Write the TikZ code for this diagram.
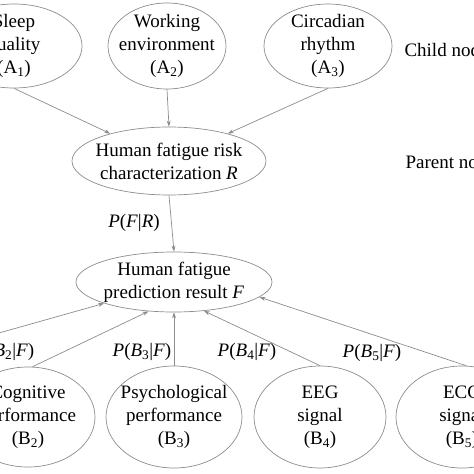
\documentclass[tikz,border=0pt]{standalone}
\usepackage{fontspec}
\setmainfont{Liberation Serif}
\usepackage{tikz}
\usetikzlibrary{shapes.geometric}
\usetikzlibrary{arrows.meta}
\definecolor{lgray}{RGB}{140,140,140}

\begin{document}
\begin{tikzpicture}[x=1pt,y=-1pt,
			every node/.style={font=\fontsize{19}{23}\selectfont},
			ell/.style={ellipse,draw=lgray,line width=0.7pt,inner sep=0pt},
			txt/.style={align=center},
			arr/.style={draw=lgray,line width=0.7pt,-{Stealth[length=6pt,width=4pt]}}]
			\useasboundingbox (0,0) rectangle (474,474);
			\clip (0,0) rectangle (474,474);
			
			\node[ell,minimum width=136pt,minimum height=84pt,label={[txt]center:Sleep\\quality\\(A\textsubscript{1})}] (A1) at (14,46) {};
			\node[ell,minimum width=118pt,minimum height=86pt,label={[txt]center:Working\\environment\\(A\textsubscript{2})}] (A2) at (167,46) {};
			\node[ell,minimum width=128pt,minimum height=84pt,label={[txt]center:Circadian\\rhythm\\(A\textsubscript{3})}] (A3) at (328,46) {};
			\node[anchor=west] (child) at (401,50) {Child nodes};
			
			\node[ell,minimum width=194pt,minimum height=68pt,label={[txt]center:Human fatigue risk\\characterization \textit{R}}] (R) at (169,161) {};
			\node[anchor=west] (parent) at (402,162) {Parent nodes};
			
			\node[ell,minimum width=196pt,minimum height=60pt,label={[txt]center:Human fatigue\\prediction result \textit{F}}] (F) at (174,282) {};
			
			\node[ell,minimum width=134pt,minimum height=102pt] (B1) at (-117,417) {};
			\node[ell,minimum width=134pt,minimum height=100pt,label={[txt]center:Cognitive\\performance\\(B\textsubscript{2})}] (B2) at (28,417) {};
			\node[ell,minimum width=136pt,minimum height=102pt,label={[txt]center:Psychological\\performance\\(B\textsubscript{3})}] (B3) at (174,417) {};
			\node[ell,minimum width=132pt,minimum height=102pt,label={[txt]center:EEG\\signal\\(B\textsubscript{4})}] (B4) at (320,417) {};
			\node[ell,minimum width=132pt,minimum height=102pt,label={[txt]center:ECG\\signal\\(B\textsubscript{5})}] (B5) at (462,417) {};
			
			\draw[arr] (A1.south) -- (R.155);
			\draw[arr] (A2.south) -- (R.north);
			\draw[arr] (A3.south) -- (R.25);
			\draw[arr] (R.south) -- (F.north);
			\draw[arr] (B1.north) -- (F.197);
			\draw[arr] (B2.85) -- (F.229);
			\draw[arr] (B3.north) -- (F.south);
			\draw[arr] (B4.north) -- (F.-44);
			\draw[arr] (B5.85) -- (F.-10);
			
			\node (pFR) at (134,223) {\textit{P}(\textit{F}|\textit{R})};
			\node (pB2) at (5,352) {\textit{P}(\textit{B}\textsubscript{2}|\textit{F})};
			\node (pB3) at (142,352) {\textit{P}(\textit{B}\textsubscript{3}|\textit{F})};
			\node (pB4) at (247,352) {\textit{P}(\textit{B}\textsubscript{4}|\textit{F})};
			\node (pB5) at (372,353) {\textit{P}(\textit{B}\textsubscript{5}|\textit{F})};
		\end{tikzpicture}
\end{document}
